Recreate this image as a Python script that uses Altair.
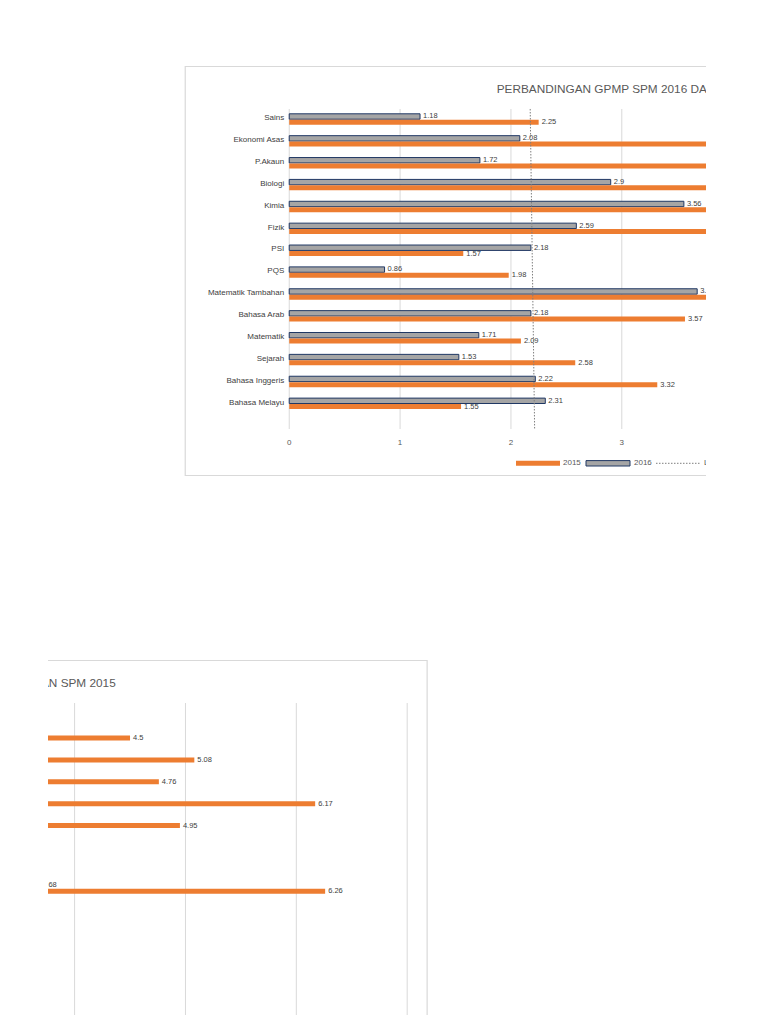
import altair as alt
import pandas as pd

# ---- data ----
categories = ["Sains", "Ekonomi Asas", "P.Akaun", "Biologi", "Kimia", "Fizik", "PSI", "PQS",
              "Matematik Tambahan", "Bahasa Arab", "Matematik", "Sejarah",
              "Bahasa Inggeris", "Bahasa Melayu"]
gpmp_2016 = [1.18, 2.08, 1.72, 2.9, 3.56, 2.59, 2.18, 0.86, 3.68, 2.18, 1.71, 1.53, 2.22, 2.31]
gpmp_2015 = [2.25, 4.5, 5.08, 4.76, 6.17, 4.95, 1.57, 1.98, 6.26, 3.57, 2.09, 2.58, 3.32, 1.55]
x_ticks = [0, 1, 2, 3, 4, 5, 6, 7]
title_text = "PERBANDINGAN GPMP SPM 2016 DAN SPM 2015"
legend_labels = ["2015", "2016", "Linear (2016)"]

df = pd.DataFrame({"subject": categories, "v2016": gpmp_2016, "v2015": gpmp_2015,
                   "row": list(range(len(categories)))})
ticks_df = pd.DataFrame({"tick": x_ticks})
one = pd.DataFrame({"k": [0]})

# ---- layout / style ----
FONT = "Liberation Sans"
ORANGE = "#ED7D31"
GREY = "#A5A5A5"
NAVY = "#203864"
GRID = "#D9D9D9"
TXT = "#404040"
TXT2 = "#595959"
PX_PER_UNIT = 110.857
ROW0, ROW_STEP = 53.7, 21.87
W = 658
BOX_LEFT, BOX_RIGHT = -0.938, 7.18
TITLE_CENTER = (BOX_LEFT + BOX_RIGHT) / 2
TREND_EXTENT = [-0.49, 14.14]


def panel(x_lo, h, with_legend):
    x_hi = x_lo + W / PX_PER_UNIT
    xs = alt.Scale(domain=[x_lo, x_hi], nice=False, zero=False, padding=0)
    ys = alt.Scale(domain=[-ROW0 / ROW_STEP, (h - ROW0) / ROW_STEP], reverse=True,
                   nice=False, zero=False, padding=0)

    def X(f):
        return alt.X(f, type="quantitative", scale=xs, axis=None)

    def XD(v):
        return alt.XDatum(v, type="quantitative", scale=xs, axis=None)

    def Y(f):
        return alt.Y(f, type="quantitative", scale=ys, axis=None)

    layers = []
    # chart-area border
    layers.append(alt.Chart(one).mark_rect(fillOpacity=0, stroke=GRID, strokeWidth=1.2, clip=True).encode(
        x=XD(BOX_LEFT), x2=alt.X2Datum(BOX_RIGHT), y=alt.value(0.5), y2=alt.value(409.5)))
    # gridlines
    layers.append(alt.Chart(ticks_df).mark_rule(color=GRID, strokeWidth=1, clip=True).encode(
        x=X("tick"), y=alt.value(43), y2=alt.value(363)))
    # tick labels
    layers.append(alt.Chart(ticks_df).mark_text(fontSize=8, color=TXT2, font=FONT, baseline="middle",
                                                clip=True).encode(
        x=X("tick"), y=alt.value(377), text=alt.Text("tick:Q")))
    # title
    layers.append(alt.Chart(one).mark_text(fontSize=11.8, color=TXT2, font=FONT, align="center",
                                           baseline="alphabetic", clip=True).encode(
        x=XD(TITLE_CENTER), y=alt.value(27), text=alt.value(title_text)))
    # category labels
    layers.append(alt.Chart(df).mark_text(fontSize=8, color=TXT, font=FONT, align="right",
                                          baseline="middle", dx=-5, dy=-1.5, clip=True).encode(
        x=XD(0), y=Y("row"), text="subject:N"))
    # 2016 bars
    layers.append(alt.Chart(df).mark_bar(orient="horizontal", size=5.4, yOffset=-3.2, color=GREY,
                                         stroke=NAVY, strokeWidth=1, clip=True).encode(
        x=X("v2016"), x2=alt.X2Datum(0), y=Y("row")))
    # 2015 bars
    layers.append(alt.Chart(df).mark_bar(orient="horizontal", size=5, yOffset=2.5, color=ORANGE,
                                         clip=True).encode(
        x=X("v2015"), x2=alt.X2Datum(0), y=Y("row")))
    # value labels
    layers.append(alt.Chart(df).mark_text(fontSize=7.5, color=TXT, font=FONT, align="left",
                                          baseline="middle", dx=3, dy=-3.4, clip=True).encode(
        x=X("v2016"), y=Y("row"), text=alt.Text("v2016:Q")))
    layers.append(alt.Chart(df).mark_text(fontSize=7.5, color=TXT, font=FONT, align="left",
                                          baseline="middle", dx=3, dy=2.6, clip=True).encode(
        x=X("v2015"), y=Y("row"), text=alt.Text("v2015:Q")))
    # linear trendline of 2016
    layers.append(alt.Chart(df).transform_regression("row", "v2016", extent=TREND_EXTENT).mark_line(
        color="#7F7F7F", strokeWidth=1, strokeDash=[1.5, 1.5], clip=True).encode(
        x=X("v2016"), y=Y("row"), order=alt.Order("row:Q")))

    if with_legend:
        ly = 397.3
        layers.append(alt.Chart(one).mark_rect(color=ORANGE).encode(
            x=alt.value(468), x2=alt.value(512), y=alt.value(ly - 2.5), y2=alt.value(ly + 2.5)))
        layers.append(alt.Chart(one).mark_rect(color=GREY, stroke=NAVY, strokeWidth=1).encode(
            x=alt.value(538), x2=alt.value(582), y=alt.value(ly - 2.7), y2=alt.value(ly + 2.7)))
        layers.append(alt.Chart(one).mark_rule(color="#7F7F7F", strokeWidth=1,
                                               strokeDash=[1.5, 1.5]).encode(
            x=alt.value(608), x2=alt.value(652), y=alt.value(ly)))
        for lx, lab in zip([515, 586, 656], legend_labels):
            layers.append(alt.Chart(one).mark_text(fontSize=8, color=TXT2, font=FONT, align="left",
                                                   baseline="middle", clip=True).encode(
                x=alt.value(lx), y=alt.value(ly), text=alt.value(lab)))

    return alt.layer(*layers).properties(width=W, height=h)


top = panel(-2.176, 410, True)
bottom = panel(3.76, 355, False)

chart = alt.vconcat(top, bottom, spacing=184).resolve_scale(
    x="independent", y="independent").properties(
    padding={"left": 40, "top": 58, "right": 0, "bottom": 0},
    background="white").configure_view(strokeWidth=0)

chart.save("out.html", embed_options={"renderer": "svg", "actions": False})
